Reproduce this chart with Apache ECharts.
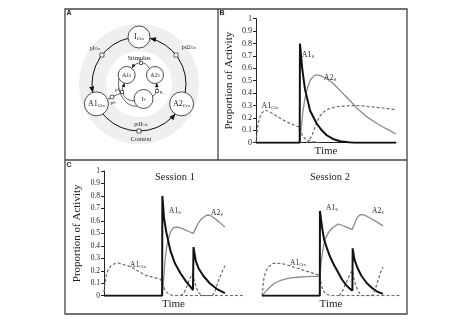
<!DOCTYPE html>
<html><head><meta charset="utf-8">
<script src="https://cdn.jsdelivr.net/npm/echarts@6/dist/echarts.min.js"></script>
<style>html,body{margin:0;padding:0;background:#fff}#c{width:474px;height:323px}</style>
</head><body><div id="c"></div>
<script>
// ---------- DATA (time in % of axis length, value = proportion of activity) ----------
// Panel B
const bA1ctx = [[0,0],[0.7,0.08],[1.5,0.15],[2.5,0.2],[4,0.24],[6.4,0.26],[9,0.255],[12,0.235],[16,0.205],[20,0.18],[25,0.152],[29.5,0.132],[31.3,0.13],[32,0.09],[33.5,0.05],[36,0.025],[40,0.01],[45,0]];
const bA1s   = [[0,0],[31.2,0],[31.4,0.8],[33,0.6],[35,0.43],[38.6,0.26],[43.3,0.155],[47,0.1],[50.5,0.06],[55,0.03],[60,0.012],[66,0.003],[70,0],[100,0]];
const bA2s   = [[31.4,0],[32.3,0.12],[33.5,0.25],[35,0.36],[37,0.45],[39,0.51],[42,0.545],[45,0.545],[50,0.52],[55,0.48],[61,0.41],[67,0.34],[73,0.27],[79,0.21],[85,0.165],[91,0.125],[96,0.095],[100,0.07]];
const bA2ctx = [[36,0],[38,0.02],[40,0.06],[42,0.12],[44,0.18],[46,0.22],[49,0.255],[53,0.277],[58,0.29],[65,0.297],[72,0.3],[80,0.292],[91,0.28],[100,0.265]];
// Panel C, Session 1
const s1A1ctx = [[0,0.03],[0.5,0.08],[1.9,0.18],[3.5,0.22],[5.5,0.245],[8,0.258],[10.3,0.262],[14,0.25],[19.7,0.23],[24,0.2],[29.3,0.166],[35,0.148],[40.5,0.134],[41.9,0.13],[42.5,0.09],[44,0.04],[47,0.01],[50,0],[100,0]];
const s1A1s   = [[0,0],[41.8,0],[42,0.8],[43.2,0.62],[45,0.5],[47.8,0.36],[51,0.26],[55,0.18],[59,0.115],[62,0.075],[64,0.045],[64.2,0.04],[64.4,0.39],[66,0.28],[68,0.22],[71.4,0.16],[76,0.1],[81,0.055],[87,0.02]];
const s1A2s   = [[42,0],[42.8,0.12],[43.9,0.28],[45.2,0.4],[46.6,0.47],[48.2,0.52],[50,0.545],[52,0.55],[55,0.545],[58,0.53],[61,0.515],[64.2,0.5],[65.5,0.53],[67.7,0.58],[70,0.615],[73.7,0.645],[76,0.645],[79,0.625],[83,0.59],[87,0.55]];
const s1A2ctx = [[55,0],[57.5,0.02],[59.5,0.07],[61.5,0.13],[63.5,0.175],[64.3,0.18],[65,0.12],[66.5,0.06],[68.5,0.02],[71,0],[78,0],[80,0.04],[82,0.11],[84.5,0.18],[87,0.24]];
// Panel C, Session 2
const s2A1ctx = [[0,0],[0.7,0.07],[1.5,0.15],[3,0.2],[4.6,0.23],[8.2,0.26],[12,0.26],[15.5,0.255],[20,0.24],[26,0.22],[31,0.2],[34.8,0.19],[38,0.175],[41.5,0.166],[42.8,0.1],[44,0.05],[46,0.015],[50,0],[100,0]];
const s2A1s   = [[0,0],[41.9,0],[42,0.68],[43.5,0.55],[45,0.45],[46.8,0.39],[49,0.32],[52,0.25],[55,0.19],[58,0.13],[61,0.085],[63.3,0.06],[65.5,0.04],[65.7,0.38],[67,0.29],[69.3,0.22],[72,0.16],[76,0.1],[80,0.06],[84,0.03],[87.7,0.015]];
const s2A2s   = [[0,0],[2,0.025],[5.8,0.07],[9,0.1],[13,0.12],[18,0.137],[22.7,0.145],[28,0.15],[32.4,0.153],[37,0.155],[42,0.155],[43,0.28],[44.6,0.4],[46,0.46],[48.3,0.51],[51,0.545],[55.3,0.575],[58,0.565],[61.5,0.55],[65.2,0.53],[66.5,0.56],[68.6,0.62],[71,0.65],[74,0.648],[78,0.625],[81.9,0.6],[87.7,0.56]];
const s2A2ctx = [[56,0],[58,0.03],[60,0.08],[62,0.13],[64,0.18],[65.6,0.2],[66.5,0.14],[68,0.08],[70,0.03],[72,0],[80,0],[82,0.05],[84,0.12],[86,0.19],[87.7,0.23]];

const yMin = 0, yMax = 1, yStep = 0.1;
const sessionTitles = ['Session 1', 'Session 2'];

// ---------- STYLE ----------
const SERIF = '"Liberation Serif", "DejaVu Serif", serif';
const SANS = '"Liberation Sans", Arial, sans-serif';
const INK = '#222';

function yAx(grid, show, withName) {
  return {
    gridIndex: grid, type: 'value', min: yMin, max: yMax, interval: yStep, show: show,
    axisLine: {show: true, lineStyle: {color: INK, width: 1}},
    axisTick: {show: true, length: 3, lineStyle: {color: INK, width: 1}},
    axisLabel: {fontFamily: SERIF, fontSize: grid === 0 ? 8 : 7.5, color: INK, margin: 4},
    splitLine: {show: false},
    name: withName ? 'Proportion of Activity' : '', nameLocation: 'middle', nameGap: 21,
    nameTextStyle: {fontFamily: SERIF, fontSize: 11, color: INK}
  };
}
function xAx(grid, showLine) {
  return {
    gridIndex: grid, type: 'value', min: 0, max: 100,
    axisLine: {show: showLine, lineStyle: {color: INK, width: 1}},
    axisTick: {show: false}, axisLabel: {show: false}, splitLine: {show: false},
    name: 'Time', nameLocation: 'middle', nameGap: 3,
    nameTextStyle: {fontFamily: SERIF, fontSize: 11, color: INK}
  };
}
function ser(data, grid, kind) {
  const st = {
    black: {color: '#111', width: 2, type: 'solid', z: 5},
    gray: {color: '#8a8a8a', width: 1.3, type: 'solid', z: 4},
    dash: {color: '#6a6a6a', width: 1.2, type: [3, 2], z: 3}
  }[kind];
  return {type: 'line', xAxisIndex: grid, yAxisIndex: grid, data: data, showSymbol: false, symbol: 'none',
    z: st.z, animation: false, silent: true,
    lineStyle: {color: st.color, width: st.width, type: st.type}};
}

// ---------- LABEL HELPERS ----------
function lab(x, y, main, sub, size, extra) {
  const s = size || 8;
  return Object.assign({type: 'text', x: x, y: y, z: 20, silent: true, style: {
    text: '{m|' + main + '}{s|' + sub + '}', align: 'center', verticalAlign: 'middle',
    rich: {
      m: {fontFamily: SERIF, fontSize: s, fill: INK},
      s: {fontFamily: SERIF, fontSize: Math.round(s * 0.62 * 10) / 10, fill: INK, padding: [Math.round(s * 0.45), 0, 0, 0]}
    }
  }}, extra || {});
}
function txt(x, y, t, size, font, weight) {
  return {type: 'text', x: x, y: y, z: 20, silent: true, style: {text: t, fontFamily: font || SERIF,
    fontSize: size, fontWeight: weight || 'normal', fill: INK, align: 'center', verticalAlign: 'middle'}};
}

// ---------- PANEL A DIAGRAM ----------
const cx = 139, cy = 84, R = 47;
function onC(deg, r) { const a = deg * Math.PI / 180; return [cx + (r || R) * Math.cos(a), cy + (r || R) * Math.sin(a)]; }
function arrowHead(deg) {
  const a = deg * Math.PI / 180; const p = onC(deg);
  const dx = Math.sin(a), dy = -Math.cos(a); // travel direction (decreasing angle)
  const L = 6, W = 2.6;
  const bx = p[0] - dx * L, by = p[1] - dy * L;
  return {type: 'polygon', z: 12, silent: true, shape: {points: [p, [bx - dy * W, by + dx * W], [bx + dy * W, by - dx * W]]}, style: {fill: '#111'}};
}
function arrowPt(tip, dir) {
  const L = 4, W = 1.8; const n = Math.hypot(dir[0], dir[1]); const dx = dir[0] / n, dy = dir[1] / n;
  const bx = tip[0] - dx * L, by = tip[1] - dy * L;
  return {type: 'polygon', z: 12, silent: true, shape: {points: [tip, [bx - dy * W, by + dx * W], [bx + dy * W, by - dx * W]]}, style: {fill: '#111'}};
}
function sq(p, s) { s = s || 4; return {type: 'rect', z: 13, silent: true, shape: {x: p[0] - s / 2, y: p[1] - s / 2, width: s, height: s}, style: {fill: '#fff', stroke: '#222', lineWidth: 0.7}}; }
function node(p, r) { return {type: 'circle', z: 11, silent: true, shape: {cx: p[0], cy: p[1], r: r}, style: {fill: '#fff', stroke: '#222', lineWidth: 0.8}}; }
function curve(pts, w) {
  return {type: 'bezierCurve', z: 10, silent: true, shape: {x1: pts[0][0], y1: pts[0][1], cpx1: pts[1][0], cpy1: pts[1][1], cpx2: pts[2][0], cpy2: pts[2][1], x2: pts[3][0], y2: pts[3][1]}, style: {stroke: '#222', lineWidth: w || 0.7, fill: 'none'}};
}
const pI = onC(270), pA1 = onC(155), pA2 = onC(25);
const iA1 = [126.7, 75], iA2 = [155, 75], iI = [143.5, 99];

const diagram = [
  {type: 'ring', z: 1, silent: true, shape: {cx: cx, cy: cy, r: 60, r0: 33}, style: {fill: '#efefef'}},
  {type: 'circle', z: 9, silent: true, shape: {cx: cx, cy: cy, r: R}, style: {fill: 'none', stroke: '#111', lineWidth: 1}},
  arrowHead(169.5), arrowHead(39.5), arrowHead(-76.5),
  sq(onC(218)), sq(onC(-38)), sq(onC(90)),
  node(pI, 11), node(pA1, 12), node(pA2, 12),
  lab(pI[0], pI[1], 'I', 'Ctx', 8), lab(pA1[0], pA1[1], 'A1', 'Ctx', 8), lab(pA2[0], pA2[1], 'A2', 'Ctx', 8),
  lab(95, 48, 'pI', 'Ctx', 6), lab(189, 47, 'pd2', 'Ctx', 6), lab(141, 124, 'pdI', 'Ctx', 6),
  txt(141, 139, 'Context', 6.5), txt(139, 58, 'Stimulus', 6.5),
  // inner stimulus loop
  curve([[149, 68], [146, 61], [136, 61], [132, 68]]), arrowPt([132, 68], [-0.6, 1]),
  sq([141, 63], 3), txt(140, 59.5, 'w', 4.5),
  curve([[134.5, 101], [124, 101], [120, 92], [124, 83.5]]), arrowPt([124.5, 83], [0.3, -1]),
  curve([[152.5, 96], [157, 94], [158, 89], [156.5, 83.5]]), arrowPt([156.5, 83], [-0.1, -1]),
  curve([[119, 78], [116, 95], [128, 108], [137, 106]]),
  sq([122, 92], 3), sq([157, 91], 3),
  lab(118, 90, 'pI', 'S', 4.5), lab(162, 92, 'p', 'S', 4.5),
  node(iA1, 8.5), node(iA2, 8.5), node(iI, 9.5),
  lab(iA1[0], iA1[1], 'A1', 'S', 6), lab(iA2[0], iA2[1], 'A2', 'S', 6), lab(iI[0], iI[1], 'I', 'S', 6),
  // p0 link from A1ctx to stimulus layer
  {type: 'line', z: 10, silent: true, shape: {x1: 108, y1: 99, x2: 121, y2: 93}, style: {stroke: '#222', lineWidth: 0.7}},
  sq([112, 97], 3.5), txt(113, 103, 'p0', 5)
];

// ---------- FRAME & LABELS ----------
const frame = [
  {type: 'rect', z: 30, silent: true, shape: {x: 65, y: 9, width: 342, height: 305}, style: {fill: 'none', stroke: '#444', lineWidth: 1.3}},
  {type: 'line', z: 30, silent: true, shape: {x1: 218, y1: 9, x2: 218, y2: 160}, style: {stroke: '#444', lineWidth: 1.3}},
  {type: 'line', z: 30, silent: true, shape: {x1: 65, y1: 160, x2: 407, y2: 160}, style: {stroke: '#444', lineWidth: 1.3}},
  txt(69, 13.5, 'A', 7, SANS, 'bold'), txt(222, 13.5, 'B', 7, SANS, 'bold'), txt(69, 165, 'C', 7, SANS, 'bold'),
  txt(175, 177, sessionTitles[0], 10.5), txt(330, 177, sessionTitles[1], 10.5),
  lab(308, 55, 'A1', 'S', 8), lab(330, 78, 'A2', 'S', 8), lab(270, 106, 'A1', 'Ctx', 8),
  lab(175, 211, 'A1', 'S', 7.5), lab(217, 213, 'A2', 'S', 7.5), lab(138, 265, 'A1', 'Ctx', 7.5),
  lab(332, 208, 'A1', 'S', 7.5), lab(378, 211, 'A2', 'S', 7.5), lab(298, 263, 'A1', 'Ctx', 7.5)
];

const chart = echarts.init(document.getElementById('c'), null, {renderer: 'canvas'});
chart.setOption({
  animation: false,
  backgroundColor: '#fff',
  grid: [
    {left: 256, top: 18.7, width: 140, height: 124, outerBoundsMode: 'none', containLabel: false},
    {left: 104, top: 171, width: 139, height: 124.7, outerBoundsMode: 'none', containLabel: false},
    {left: 262, top: 171, width: 138, height: 124.7, outerBoundsMode: 'none', containLabel: false}
  ],
  xAxis: [xAx(0, true), xAx(1, false), xAx(2, false)],
  yAxis: [yAx(0, true, true), yAx(1, true, true), yAx(2, false, false)],
  series: [
    ser(bA1ctx, 0, 'dash'), ser(bA2ctx, 0, 'dash'), ser(bA2s, 0, 'gray'), ser(bA1s, 0, 'black'),
    ser(s1A1ctx, 1, 'dash'), ser(s1A2ctx, 1, 'dash'), ser(s1A2s, 1, 'gray'), ser(s1A1s, 1, 'black'),
    ser(s2A1ctx, 2, 'dash'), ser(s2A2ctx, 2, 'dash'), ser(s2A2s, 2, 'gray'), ser(s2A1s, 2, 'black')
  ],
  graphic: {elements: diagram.concat(frame)}
});
</script>
</body></html>
